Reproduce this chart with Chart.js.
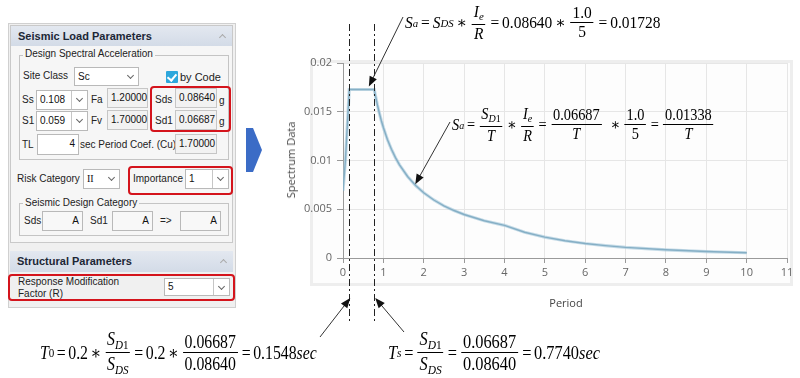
<!DOCTYPE html>
<html>
<head>
<meta charset="utf-8">
<script src="https://cdn.jsdelivr.net/npm/chart.js@4.4.1/dist/chart.umd.min.js"></script>
<style>
  body { margin: 0; width: 800px; height: 378px; background: #fff; position: relative; overflow: hidden; font-family: "Liberation Sans", "Noto Sans", sans-serif; }
  .a { position: absolute; }
  .t { position: absolute; font-size: 10px; color: #222; white-space: nowrap; line-height: 14px; }
  .box { position: absolute; background: #fff; border: 1px solid #b9b9b9; box-sizing: border-box; font-size: 10px; line-height: 18px; color: #111; padding: 0 3px; white-space: nowrap; }
  .ro { background: #f2f2f2; border-color: #c6c6c6; text-align: right; }
  .num { text-align: right; }
  .cb::after { content: ''; position: absolute; right: 5px; top: 5px; width: 4px; height: 4px; border-right: 1px solid #666; border-bottom: 1px solid #666; transform: rotate(45deg); }
  .cb.sep::before { content: ''; position: absolute; right: 15px; top: 0; bottom: 0; border-left: 1px solid #c6c6c6; }
  .red { position: absolute; border: 2.5px solid #d4141c; border-radius: 4px; box-sizing: border-box; }
  .grp { position: absolute; border: 1px solid #c4c4c4; box-sizing: border-box; }
  .leg { position: absolute; background: #f6f6f6; padding: 0 2px; font-size: 10px; color: #222; line-height: 14px; white-space: nowrap; }
  .hdr { position: absolute; background: linear-gradient(#e3e8f0, #d3dbe7); font-weight: bold; font-size: 11px; color: #1c2736; line-height: 20px; padding-left: 7px; box-sizing: border-box; }
  .hdr::after { content: ''; position: absolute; right: 7px; top: 9px; width: 4px; height: 4px; border-left: 1px solid #aaa; border-top: 1px solid #aaa; transform: rotate(45deg); }
  .eq { position: absolute; font-family: "Liberation Serif", "DejaVu Serif", serif; color: #000; white-space: nowrap; transform-origin: 0 50%; display: flex; align-items: center; }
  .eq sub { font-size: 70%; vertical-align: -0.3em; }
  .fr { display: inline-flex; flex-direction: column; text-align: center; line-height: 1.05; margin: 0 2px; }
  .fr > span:first-child { border-bottom: 1px solid #000; padding: 0 2px 1px; }
  .fr > span:last-child { padding-top: 1px; }
  .op { margin: 0 3px; }
</style>
</head>
<body>
<!-- settings panel -->
<div class="a" style="left:8px;top:23px;width:228px;height:285px;background:#f0f0f0;border:1px solid #d0d0d0;box-sizing:border-box"></div>
<div class="a" style="left:10px;top:25px;width:223px;height:218px;background:#f6f6f6;border:1px solid #c9c9c9;box-sizing:border-box"></div>
<div class="hdr" style="left:11px;top:26px;width:221px;height:20px">Seismic Load Parameters</div>

<div class="grp" style="left:19px;top:55px;width:210px;height:105px"></div>
<div class="leg" style="left:23px;top:47px">Design Spectral Acceleration</div>

<div class="t" style="left:23px;top:69px">Site Class</div>
<div class="box cb" style="left:74px;top:67px;width:65px;height:19px;line-height:17px">Sc</div>
<div class="a" style="left:166px;top:71px;width:12px;height:12px;background:#2ea7dc;border-radius:1px"></div>
<div class="a" style="left:169px;top:72px;width:4px;height:7px;border-right:2px solid #fff;border-bottom:2px solid #fff;transform:rotate(40deg)"></div>
<div class="t" style="left:180px;top:70px;font-size:11px">by Code</div>

<div class="t" style="left:22px;top:93px">Ss</div>
<div class="box cb sep" style="left:36px;top:90px;width:52px;height:20px">0.108</div>
<div class="t" style="left:91px;top:93px">Fa</div>
<div class="box ro" style="left:107px;top:88px;width:41px;height:20px">1.20000</div>
<div class="t" style="left:155px;top:93px">Sds</div>
<div class="box ro" style="left:175px;top:88px;width:42px;height:20px">0.08640</div>
<div class="t" style="left:219px;top:94px">g</div>

<div class="t" style="left:22px;top:114px">S1</div>
<div class="box cb sep" style="left:36px;top:111px;width:52px;height:20px">0.059</div>
<div class="t" style="left:91px;top:114px">Fv</div>
<div class="box ro" style="left:107px;top:110px;width:41px;height:20px">1.70000</div>
<div class="t" style="left:155px;top:114px">Sd1</div>
<div class="box ro" style="left:175px;top:110px;width:42px;height:20px">0.06687</div>
<div class="t" style="left:219px;top:115px">g</div>
<div class="red" style="left:150px;top:86px;width:81px;height:46px"></div>

<div class="t" style="left:22px;top:138px">TL</div>
<div class="box num" style="left:37px;top:134px;width:42px;height:21px">4</div>
<div class="t" style="left:80px;top:138px">sec Period Coef. (Cu)</div>
<div class="box ro" style="left:175px;top:134px;width:42px;height:20px">1.70000</div>

<div class="t" style="left:17px;top:172px">Risk Category</div>
<div class="box cb" style="left:83px;top:169px;width:37px;height:20px;font-family:'Liberation Serif',serif">II</div>
<div class="t" style="left:133px;top:172px">Importance</div>
<div class="box cb sep" style="left:185px;top:169px;width:44px;height:20px">1</div>
<div class="red" style="left:128px;top:166px;width:105px;height:29px"></div>

<div class="grp" style="left:19px;top:203px;width:210px;height:33px"></div>
<div class="leg" style="left:23px;top:196px">Seismic Design Category</div>
<div class="t" style="left:24px;top:214px">Sds</div>
<div class="box num" style="left:42px;top:211px;width:41px;height:20px;background:#f8f8f8">A</div>
<div class="t" style="left:90px;top:214px">Sd1</div>
<div class="box num" style="left:112px;top:211px;width:41px;height:20px;background:#f8f8f8">A</div>
<div class="t" style="left:160px;top:214px">=&gt;</div>
<div class="box num" style="left:180px;top:211px;width:41px;height:20px;background:#f8f8f8">A</div>

<div class="hdr" style="left:10px;top:251px;width:223px;height:21px">Structural Parameters</div>
<div class="t" style="left:18px;top:276px;line-height:12px">Response Modification<br>Factor (R)</div>
<div class="box cb sep" style="left:164px;top:278px;width:66px;height:18px;line-height:16px">5</div>
<div class="red" style="left:8px;top:274px;width:227px;height:27px"></div>

<!-- blue arrow -->
<svg class="a" style="left:0;top:0" width="800" height="378">
  <polygon points="246,128 253,128 262,150 253,172 246,172" fill="#3b6cc6"/>
</svg>

<canvas id="spectrum" class="a" style="left:0;top:0" width="800" height="378"></canvas>

<div class="t" style="left:291px;top:160px;font-family:'Open Sans',sans-serif;font-size:11px;color:#444;transform:translate(-50%,-50%) rotate(-90deg)">Spectrum Data</div>
<div class="t" style="left:566px;top:303px;font-family:'Open Sans',sans-serif;font-size:11px;color:#444;transform:translate(-50%,-50%)">Period</div>

<!-- formulas -->
<div class="eq" id="eqTop" data-x="405" data-y="23" data-w="255" style="font-size:16px">
  <i>S</i><sub><i>a</i></sub><span class="op">=</span><i>S</i><sub><i>DS</i></sub><span class="op">∗</span><span class="fr"><span><i>I</i><sub><i>e</i></sub></span><span><i>R</i></span></span><span class="op">=</span>0.08640<span class="op">∗</span><span class="fr"><span>1.0</span><span>5</span></span><span class="op">=</span>0.01728
</div>
<div class="eq" id="eqMid" data-x="452" data-y="125" data-w="263" style="font-size:16px">
  <i>S</i><sub><i>a</i></sub><span class="op">=</span><span class="fr"><span><i>S</i><sub><i>D</i>1</sub></span><span><i>T</i></span></span><span class="op">∗</span><span class="fr"><span><i>I</i><sub><i>e</i></sub></span><span><i>R</i></span></span><span class="op">=</span><span class="fr"><span>0.06687</span><span><i>T</i></span></span><span class="op" style="margin-left:8px">∗</span><span class="fr"><span>1.0</span><span>5</span></span><span class="op">=</span><span class="fr"><span>0.01338</span><span><i>T</i></span></span>
</div>
<div class="eq" id="eqT0" data-x="40" data-y="353" data-w="277" style="font-size:19px">
  <i>T</i><sub>0</sub><span class="op">=</span>0.2<span class="op">∗</span><span class="fr"><span><i>S</i><sub><i>D</i>1</sub></span><span><i>S</i><sub><i>DS</i></sub></span></span><span class="op">=</span>0.2<span class="op">∗</span><span class="fr"><span>0.06687</span><span>0.08640</span></span><span class="op">=</span>0.1548<i>sec</i>
</div>
<div class="eq" id="eqTs" data-x="388" data-y="353" data-w="212" style="font-size:19px">
  <i>T</i><sub><i>s</i></sub><span class="op">=</span><span class="fr"><span><i>S</i><sub><i>D</i>1</sub></span><span><i>S</i><sub><i>DS</i></sub></span></span><span class="op">=</span><span class="fr"><span>0.06687</span><span>0.08640</span></span><span class="op">=</span>0.7740<i>sec</i>
</div>

<script>
// spectrum curve
const periods = [0, 0.06, 0.155, 0.774, 0.8, 0.85, 0.9, 0.95, 1, 1.1, 1.2, 1.3, 1.4, 1.6, 1.8, 2, 2.25, 2.5, 2.75, 3, 3.5, 4, 4.5, 5, 5.5, 6, 6.5, 7, 8, 9, 10];
const spectrumData = [0.0069, 0.0100, 0.01728, 0.01728, 0.01673, 0.01574, 0.01487, 0.01408, 0.01338, 0.01216, 0.01115, 0.01029, 0.00956, 0.00836, 0.00743, 0.00669, 0.00595, 0.00535, 0.00487, 0.00446, 0.00382, 0.00335, 0.00264, 0.00214, 0.00177, 0.00149, 0.00127, 0.00109, 0.00084, 0.00066, 0.00054];
const xMax = 11;
const yMax = 0.02;
const yStep = 0.005;
// T0 and Ts marker lines
const markPeriods = [0.1548, 0.774];
// arrow targets [period, value]
const arrowTargets = [[0.64, 0.01728], [1.79, 0.00747]];

const points = periods.map((p, i) => ({ x: p, y: spectrumData[i] }));

function arrow(ctx, x1, y1, x2, y2) {
    const a = Math.atan2(y2 - y1, x2 - x1);
    ctx.beginPath();
    ctx.moveTo(x1, y1);
    ctx.lineTo(x2 - 6 * Math.cos(a), y2 - 6 * Math.sin(a));
    ctx.stroke();
    ctx.beginPath();
    ctx.moveTo(x2, y2);
    ctx.lineTo(x2 - 10 * Math.cos(a) + 4 * Math.sin(a), y2 - 10 * Math.sin(a) - 4 * Math.cos(a));
    ctx.lineTo(x2 - 10 * Math.cos(a) - 4 * Math.sin(a), y2 - 10 * Math.sin(a) + 4 * Math.cos(a));
    ctx.closePath();
    ctx.fill();
}

const frame = {
    id: 'frame',
    beforeDraw(chart) {
        const ctx = chart.ctx;
        ctx.save();
        ctx.fillStyle = '#eeeeee';
        ctx.fillRect(310, 60, 483, 226);
        ctx.fillStyle = '#fdfdfd';
        ctx.fillRect(313, 63, 477, 220);
        ctx.restore();
    },
    afterDraw(chart) {
        const { ctx, scales: { x, y } } = chart;
        ctx.save();
        ctx.strokeStyle = '#222';
        ctx.fillStyle = '#111';
        ctx.lineWidth = 1;
        ctx.setLineDash([7, 3, 2, 3]);
        markPeriods.forEach(t => {
            const px = Math.round(x.getPixelForValue(t)) + 0.5;
            ctx.beginPath();
            ctx.moveTo(px, 24);
            ctx.lineTo(px, 324);
            ctx.stroke();
        });
        ctx.setLineDash([]);
        ctx.strokeStyle = '#333';
        const p1 = arrowTargets[0], p2 = arrowTargets[1];
        arrow(ctx, 403, 17, x.getPixelForValue(p1[0]), y.getPixelForValue(p1[1]) - 3);
        arrow(ctx, 450, 122, x.getPixelForValue(p2[0]), y.getPixelForValue(p2[1]) - 1);
        arrow(ctx, 320, 337, x.getPixelForValue(markPeriods[0]) + 1, 298);
        arrow(ctx, 404, 332, x.getPixelForValue(markPeriods[1]) + 1, 298);
        ctx.restore();
    }
};

const tickFont = { family: 'Open Sans', size: 11 };

new Chart(document.getElementById('spectrum'), {
    type: 'line',
    data: {
        datasets: [{
            data: points,
            borderColor: 'rgba(160, 196, 216, 0.6)',
            borderWidth: 3.2,
            pointRadius: 0,
            tension: 0
        }, {
            data: points,
            borderColor: '#5d8ea9',
            borderWidth: 1.4,
            pointRadius: 0,
            tension: 0
        }]
    },
    options: {
        animation: false,
        responsive: false,
        devicePixelRatio: 1,
        events: [],
        layout: { padding: { left: 300, top: 63, right: 13, bottom: 80 } },
        plugins: { legend: { display: false }, tooltip: { enabled: false } },
        scales: {
            x: {
                type: 'linear',
                min: 0,
                max: xMax,
                afterFit: s => { s.height = 40; },
                ticks: { stepSize: 1, color: '#666', font: tickFont, padding: 3, maxRotation: 0 },
                grid: { color: '#e6e6e6', tickColor: '#999', tickLength: 5 },
                border: { color: '#9a9a9a' }
            },
            y: {
                min: 0,
                max: yMax,
                afterFit: s => { s.width = 43; },
                ticks: {
                    stepSize: yStep, color: '#666', font: tickFont, padding: 5,
                    callback: v => String(Number(v.toFixed(4)))
                },
                grid: { color: '#e6e6e6', tickColor: '#999', tickLength: 6 },
                border: { color: '#9a9a9a' }
            }
        }
    },
    plugins: [frame]
});

// fit formulas to their place
document.querySelectorAll('.eq').forEach(el => {
    const w = el.offsetWidth, h = el.offsetHeight;
    const sx = (+el.dataset.w) / w;
    el.style.left = el.dataset.x + 'px';
    el.style.top = (+el.dataset.y - h / 2) + 'px';
    el.style.transform = 'scaleX(' + sx + ')';
});
</script>
</body>
</html>
